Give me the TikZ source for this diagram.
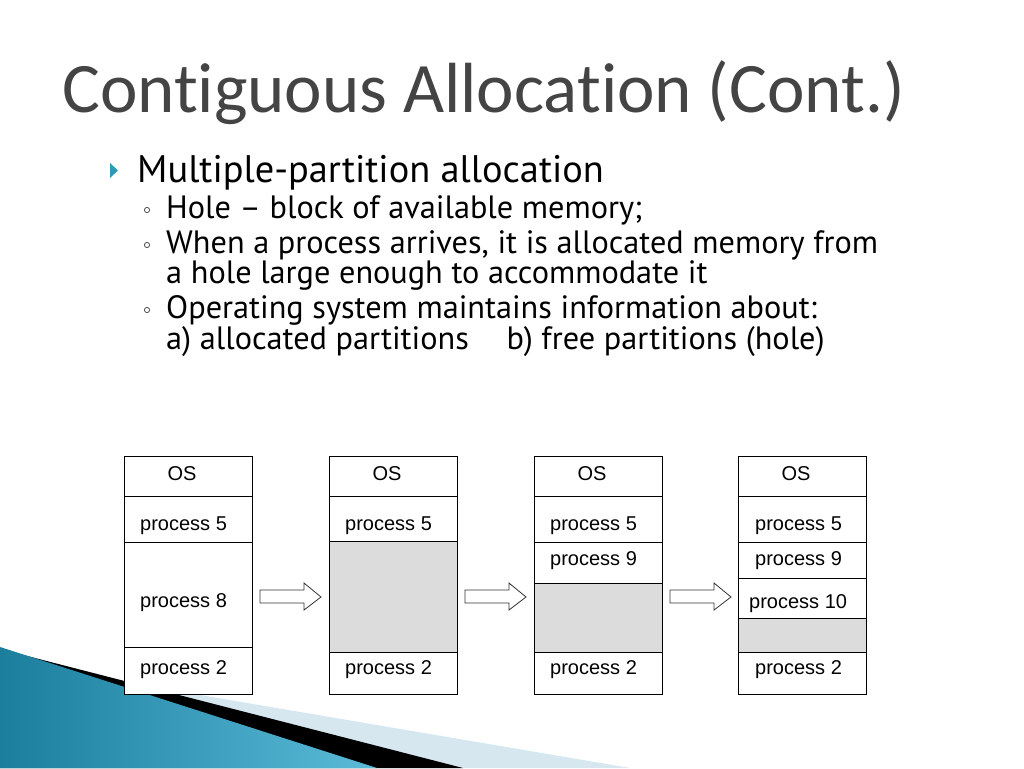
\documentclass[tikz,border=0pt]{standalone}
\usepackage{fontspec}
\setmainfont{PT Sans}
\newfontfamily\titlefont[Ligatures={NoCommon}]{Carlito}
\newfontfamily\boxfont{Liberation Sans}
\definecolor{holegray}{HTML}{DCDCDC}
\definecolor{teal1}{HTML}{1A7E9C}
\definecolor{teal2}{HTML}{5BBBD9}
\definecolor{paleblue}{HTML}{D6E7F0}
\definecolor{bullteal}{HTML}{2E9AB5}
\definecolor{titlegray}{HTML}{444444}
\begin{document}
\begin{tikzpicture}[x=1pt,y=-1pt,
  membox/.style={draw=black,line width=0.9pt,fill=white},
  holebox/.style={draw=black,line width=0.9pt,fill=holegray},
  memtxt/.style={anchor=base west,inner sep=0pt,font=\boxfont\fontsize{20}{23}\selectfont},
  ostxt/.style={anchor=base,inner sep=0pt,font=\boxfont\fontsize{20}{23}\selectfont},
  bigarrow/.style={draw=black!80,line width=0.8pt,fill=white},
  subtxt/.style={anchor=base west,inner sep=0pt,font=\fontsize{32.3}{36}\selectfont},
  subbul/.style={draw=black!70,line width=0.8pt}]
\useasboundingbox (0,0) rectangle (1024,768);
\fill[white] (0,0) rectangle (1024,768);
% decoration bottom-left
\fill[paleblue] (0,661) -- (630,768) -- (0,768) -- cycle;
\fill[black] (0,649) -- (463,768) -- (0,768) -- cycle;
\shade[left color=teal1,right color=teal2] (0,647) -- (377,768) -- (0,768) -- cycle;
% title
\node[anchor=base west,inner sep=0pt,text=titlegray,font=\titlefont\fontsize{71}{82}\selectfont] (title) at (62,112) {Contiguous Allocation (Cont.)};
% bullets
\fill[bullteal] (110,163) -- (118,170.5) -- (110,178) -- cycle;
\node[anchor=base west,inner sep=0pt,font=\fontsize{38.4}{42}\selectfont] (b1) at (137,182) {Multiple-partition allocation};
\draw[subbul] (147,210) circle (2.6);
\node[subtxt] (s1) at (166,218) {Hole -- block of available memory;};
\draw[subbul] (147,245) circle (2.6);
\node[subtxt] (s2) at (166,253) {When a process arrives, it is allocated memory from};
\node[subtxt] (s2b) at (166,283) {a hole large enough to accommodate it};
\draw[subbul] (147,310) circle (2.6);
\node[subtxt] (s3) at (166,318) {Operating system maintains information about:};
\node[subtxt] (s3b) at (166,349) {a) allocated partitions\hspace{0.9em} b) free partitions (hole)};
% column 1
\draw[membox] (124,456) rectangle (252,496);
\draw[membox] (124,496) rectangle (252,542);
\draw[membox] (124,542) rectangle (252,647);
\draw[membox] (124,647) rectangle (252,694);
\node[ostxt] (c1os) at (182,480) {OS};
\node[memtxt] (c1p5) at (140,530) {process 5};
\node[memtxt] (c1p8) at (140,607) {process 8};
\node[memtxt] (c1p2) at (140,674) {process 2};
% column 2
\draw[membox] (329,456) rectangle (457,496);
\draw[membox] (329,496) rectangle (457,541);
\draw[holebox] (329,541) rectangle (457,652);
\draw[membox] (329,652) rectangle (457,694);
\node[ostxt] (c2os) at (387,480) {OS};
\node[memtxt] (c2p5) at (345,530) {process 5};
\node[memtxt] (c2p2) at (345,674) {process 2};
% column 3
\draw[membox] (534,456) rectangle (662,496);
\draw[membox] (534,496) rectangle (662,542);
\draw[membox] (534,542) rectangle (662,583);
\draw[holebox] (534,583) rectangle (662,652);
\draw[membox] (534,652) rectangle (662,694);
\node[ostxt] (c3os) at (592,480) {OS};
\node[memtxt] (c3p5) at (550,530) {process 5};
\node[memtxt] (c3p9) at (550,565) {process 9};
\node[memtxt] (c3p2) at (550,674) {process 2};
% column 4
\draw[membox] (738,456) rectangle (866,496);
\draw[membox] (738,496) rectangle (866,542);
\draw[membox] (738,542) rectangle (866,578);
\draw[membox] (738,578) rectangle (866,618);
\draw[holebox] (738,618) rectangle (866,652);
\draw[membox] (738,652) rectangle (866,694);
\node[ostxt] (c4os) at (796,480) {OS};
\node[memtxt] (c4p5) at (755,530) {process 5};
\node[memtxt] (c4p9) at (755,565) {process 9};
\node[memtxt] (c4p10) at (749,608) {process 10};
\node[memtxt] (c4p2) at (755,674) {process 2};
% arrows
\foreach \ax in {260,465,670}{
  \draw[bigarrow] (\ax,590) -- (\ax+44,590) -- (\ax+44,583) -- (\ax+61,597) -- (\ax+44,610) -- (\ax+44,603) -- (\ax,603) -- cycle;
}
\end{tikzpicture}
\end{document}
